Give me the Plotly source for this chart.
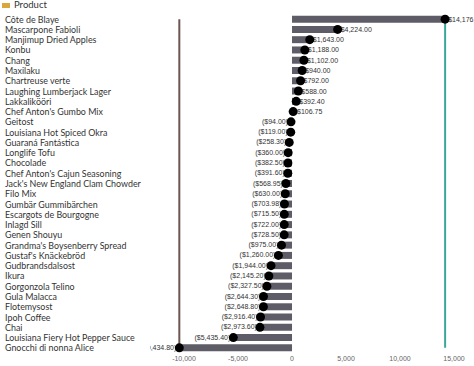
import plotly.graph_objects as go

products = [
    "Côte de Blaye", "Mascarpone Fabioli", "Manjimup Dried Apples", "Konbu", "Chang",
    "Maxilaku", "Chartreuse verte", "Laughing Lumberjack Lager", "Lakkalikööri",
    "Chef Anton's Gumbo Mix", "Geitost", "Louisiana Hot Spiced Okra", "Guaraná Fantástica",
    "Longlife Tofu", "Chocolade", "Chef Anton's Cajun Seasoning",
    "Jack's New England Clam Chowder", "Filo Mix", "Gumbär Gummibärchen",
    "Escargots de Bourgogne", "Inlagd Sill", "Genen Shouyu", "Grandma's Boysenberry Spread",
    "Gustaf's Knäckebröd", "Gudbrandsdalsost", "Ikura", "Gorgonzola Telino", "Gula Malacca",
    "Flotemysost", "Ipoh Coffee", "Chai", "Louisiana Fiery Hot Pepper Sauce",
    "Gnocchi di nonna Alice",
]
values = [
    14176.00, 4224.00, 1643.00, 1188.00, 1102.00, 940.00, 792.00, 588.00, 392.40, 106.75,
    -94.00, -119.00, -258.30, -360.00, -382.50, -391.60, -568.95, -630.00, -703.98,
    -715.50, -722.00, -728.50, -975.00, -1260.00, -1944.00, -2145.20, -2327.50, -2644.30,
    -2648.80, -2916.40, -2973.60, -5435.40, -10434.80,
]
tick_vals = [-10000, -5000, 0, 5000, 10000, 15000]
tick_text = ["-10,000", "-5,000", "0", "5,000", "10,000", "15,000"]
header = "Product"


def money(v):
    s = "${:,.2f}".format(abs(v))
    return "(" + s + ")" if v < 0 else s


labels = [money(v) for v in values]
vmin, vmax = min(values), max(values)
n = len(products)

W, H = 474, 366
ML, MR, MT, MB = 150, 0, 14, 13
plot_w = W - ML - MR
plot_h = H - MT - MB

fig = go.Figure()
fig.add_trace(go.Bar(
    x=values, y=products, orientation="h",
    marker=dict(color="#5e5d67", line=dict(width=0)),
    text=labels, textposition="outside", constraintext="none",
    textfont=dict(family="Liberation Sans, Arial", size=7, color="#333333"),
    cliponaxis=True, hoverinfo="skip",
))
fig.add_trace(go.Scatter(
    x=[vmin, vmin], y=[products[0], products[-1]], mode="lines",
    line=dict(color="#6e5552", width=2), hoverinfo="skip",
))
fig.add_trace(go.Scatter(
    x=[vmax, vmax], y=[products[0], products[-1]], mode="lines",
    line=dict(color="#3aa898", width=2), hoverinfo="skip",
))
fig.add_trace(go.Scatter(
    x=values, y=products, mode="markers",
    marker=dict(color="#000000", size=9), hoverinfo="skip", cliponaxis=False,
))

for p in products:
    fig.add_annotation(
        x=-(ML - 3) / plot_w, xref="paper", y=p, yref="y",
        text=p, showarrow=False, xanchor="left", yanchor="middle",
        font=dict(family="Lato", size=8.9, color="#333333"),
    )

fig.add_annotation(
    x=-(ML - 12) / plot_w, xref="paper", y=1 + 9 / plot_h, yref="paper",
    text=header, showarrow=False, xanchor="left", yanchor="middle",
    font=dict(family="Lato", size=9.5, color="#333333"),
)
fig.add_shape(type="rect", xref="paper", yref="paper",
              x0=-(ML - 2) / plot_w, x1=-(ML - 10) / plot_w,
              y0=1 + 6 / plot_h, y1=1 + 11 / plot_h,
              fillcolor="#d8a83c", line=dict(width=0))

fig.update_layout(
    width=W, height=H,
    margin=dict(l=ML, r=MR, t=MT, b=MB, pad=0),
    paper_bgcolor="white", plot_bgcolor="white",
    showlegend=False, bargap=0.32,
    xaxis=dict(range=[-13150, 16850], tickvals=tick_vals, ticktext=tick_text,
               showgrid=False, zeroline=False, showline=False, automargin=False,
               tickfont=dict(family="Liberation Sans, Arial", size=7, color="#666666"),
               fixedrange=True),
    yaxis=dict(range=[n - 0.5, -0.5], showticklabels=False, showgrid=False,
               zeroline=False, showline=False, fixedrange=True, automargin=False),
)

fig.write_html(
    "out.html",
    config={"displayModeBar": False},
    post_script="document.body.style.margin='0';document.body.style.padding='0';",
)
